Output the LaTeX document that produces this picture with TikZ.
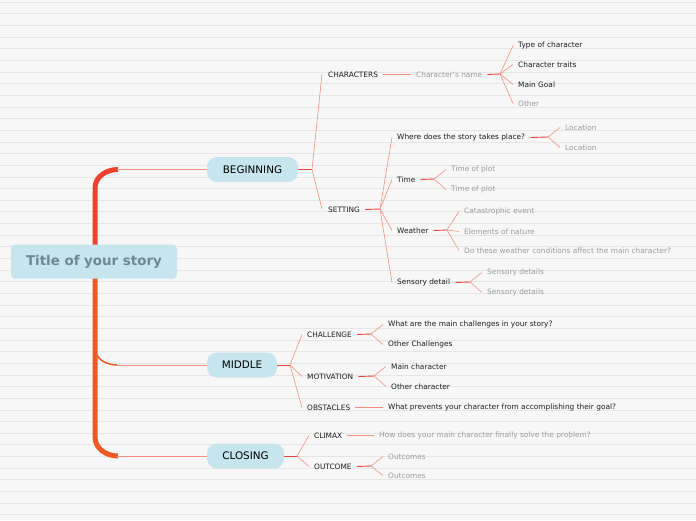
\documentclass[tikz,border=0pt]{standalone}
\usepackage{fontspec}
\setmainfont{DejaVu Sans}
\begin{document}
\begin{tikzpicture}[x=1pt,y=-1pt,
  con/.style={draw=conc,line width=0.6pt},
  hot/.style={draw=hotc,line width=0.9pt},
  main/.style={fill=boxc,rounded corners=10pt,inner sep=0pt,minimum height=25pt,font=\fontsize{10.4}{12}\selectfont,text=black},
  lt/.style={anchor=west,inner sep=0pt,font=\fontsize{7.4}{8}\selectfont,text=darkc},
  gt/.style={lt,text=grayc}]
\definecolor{conc}{HTML}{F4907F}
\definecolor{hotc}{HTML}{E8453C}
\definecolor{boxc}{HTML}{C6E5EF}
\definecolor{darkc}{HTML}{1E1E1E}
\definecolor{grayc}{HTML}{9C9C9C}
\definecolor{bgc}{HTML}{F7F7F7}
\definecolor{linec}{HTML}{E6E6E6}
\definecolor{titc}{HTML}{6F8790}
\definecolor{trunkA}{HTML}{F0412F}
\definecolor{trunkB}{HTML}{EE5A22}
\fill[bgc] (0,0) rectangle (696,520);
\useasboundingbox (0,0) rectangle (696,520);
\foreach \i in {0,...,44} \draw[linec,line width=0.5pt] (0,2+11.65*\i) -- (696,2+11.65*\i);
% trunk
\draw[trunkA,line width=5pt] (95,262) -- (95,188) to[out=90,in=180] (118,169.5);
\draw[conc,line width=0.8pt] (117,169.5) -- (207,169.5);
\draw[trunkB,line width=5pt] (95,262) -- (95,437) to[out=-90,in=180] (118,456);
\draw[trunkB,line width=1.5pt] (95,348) to[out=-90,in=180] (117,365);
\draw[conc,line width=0.8pt] (117,365) -- (207,365);
\draw[conc,line width=0.8pt] (117,456) -- (207,456);
\node[fill=boxc,rounded corners=4pt,minimum width=166pt,minimum height=34pt,font=\bfseries\fontsize{13.4}{15}\selectfont,text=titc] (title) at (94,261.5) {Title of your story};
\node[main,minimum width=91pt] (beg) at (252.5,169.5) {BEGINNING};
\node[main,minimum width=70pt] (mid) at (242,365) {MIDDLE};
\node[main,minimum width=77pt] (clo) at (245.5,456) {CLOSING};
% BEGINNING
\coordinate (fb) at (312,169.5);
\draw[hot] (beg.east) -- (fb);
\node[lt] (chr) at (328,74.5) {CHARACTERS};
\node[lt] (set) at (328,209.5) {SETTING};
\draw[con] (fb) -- (322,74); \draw[con] (fb) -- (322,209);
\node[gt] (cn) at (416,74.5) {Character's name};
\draw[con] ([xshift=5pt]chr.east) -- ([xshift=-5pt]cn.west);
\coordinate (fc) at (500,74);
\draw[hot] ([xshift=5pt]cn.east) -- (fc);
\node[lt] (c1) at (518,45.5) {Type of character};
\node[lt] (c2) at (518,64.5) {Character traits};
\node[lt] (c3) at (518,84.5) {Main Goal};
\node[gt] (c4) at (518,103.5) {Other};
\foreach \n in {c1,c2,c3,c4} \draw[con] (fc) -- ([xshift=-5pt]\n.west);
\coordinate (fs) at (380,209);
\draw[hot] ([xshift=5pt]set.east) -- (fs);
\node[lt] (s1) at (397,137.5) {Where does the story takes place?};
\node[lt] (s2) at (397,179.5) {Time};
\node[lt] (s3) at (397,230.5) {Weather};
\node[lt] (s4) at (397,282.5) {Sensory detail};
\foreach \n in {s1,s2,s3,s4} \draw[con] (fs) -- ([xshift=-5pt]\n.west);
\coordinate (f1) at (548,137);
\draw[hot] ([xshift=5pt]s1.east) -- (f1);
\node[gt] (l1) at (565,127.5) {Location};
\node[gt] (l2) at (565,147.5) {Location};
\foreach \n in {l1,l2} \draw[con] (f1) -- ([xshift=-5pt]\n.west);
\coordinate (f2) at (434,179);
\draw[hot] ([xshift=5pt]s2.east) -- (f2);
\node[gt] (t1) at (451,169.5) {Time of plot};
\node[gt] (t2) at (451,189.5) {Time of plot};
\foreach \n in {t1,t2} \draw[con] (f2) -- ([xshift=-5pt]\n.west);
\coordinate (f3) at (447,230);
\draw[hot] ([xshift=5pt]s3.east) -- (f3);
\node[gt] (w1) at (464,211.5) {Catastrophic event};
\node[gt] (w2) at (464,231.5) {Elements of nature};
\node[gt] (w3) at (464,250.5) {Do these weather conditions affect the main character?};
\foreach \n in {w1,w2,w3} \draw[con] (f3) -- ([xshift=-5pt]\n.west);
\coordinate (f4) at (470,282);
\draw[hot] ([xshift=5pt]s4.east) -- (f4);
\node[gt] (d1) at (487,272.5) {Sensory details};
\node[gt] (d2) at (487,292.5) {Sensory details};
\foreach \n in {d1,d2} \draw[con] (f4) -- ([xshift=-5pt]\n.west);
% MIDDLE
\coordinate (fm) at (290,365);
\draw[hot] (mid.east) -- (fm);
\node[lt] (ch) at (307,334.5) {CHALLENGE};
\node[lt] (mo) at (307,376.5) {MOTIVATION};
\node[lt] (ob) at (307,407.5) {OBSTACLES};
\foreach \n in {ch,mo,ob} \draw[con] (fm) -- ([xshift=-5pt]\n.west);
\coordinate (fch) at (371,334);
\draw[hot] ([xshift=5pt]ch.east) -- (fch);
\node[lt] (ch1) at (388,324.5) {What are the main challenges in your story?};
\node[lt] (ch2) at (388,344.5) {Other Challenges};
\foreach \n in {ch1,ch2} \draw[con] (fch) -- ([xshift=-5pt]\n.west);
\coordinate (fmo) at (374,376);
\draw[hot] ([xshift=5pt]mo.east) -- (fmo);
\node[lt] (mo1) at (391,366.5) {Main character};
\node[lt] (mo2) at (391,386.5) {Other character};
\foreach \n in {mo1,mo2} \draw[con] (fmo) -- ([xshift=-5pt]\n.west);
\node[lt] (ob1) at (388,407.5) {What prevents your character from accomplishing their goal?};
\draw[con] ([xshift=5pt]ob.east) -- ([xshift=-5pt]ob1.west);
% CLOSING
\coordinate (fcl) at (297,456);
\draw[hot] (clo.east) -- (fcl);
\node[lt] (cx) at (314,435.5) {CLIMAX};
\node[lt] (oc) at (314,466.5) {OUTCOME};
\foreach \n in {cx,oc} \draw[con] (fcl) -- ([xshift=-5pt]\n.west);
\node[gt] (cx1) at (379,435.5) {How does your main character finally solve the problem?};
\draw[con] ([xshift=5pt]cx.east) -- ([xshift=-5pt]cx1.west);
\coordinate (foc) at (371,466);
\draw[hot] ([xshift=5pt]oc.east) -- (foc);
\node[gt] (o1) at (388,456.5) {Outcomes};
\node[gt] (o2) at (388,475.5) {Outcomes};
\foreach \n in {o1,o2} \draw[con] (foc) -- ([xshift=-5pt]\n.west);
\end{tikzpicture}
\end{document}
